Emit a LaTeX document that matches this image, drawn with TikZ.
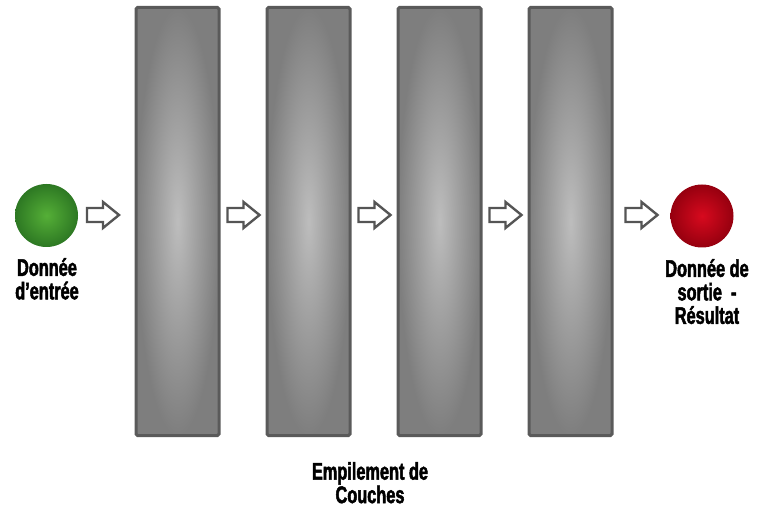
\documentclass[tikz,border=0pt]{standalone}
\usepackage{fontspec}
\setmainfont{Liberation Sans}[BoldFeatures={FakeStretch=0.68,FakeBold=2}]
\usetikzlibrary{positioning}
\definecolor{edgegray}{HTML}{5A5A5A}
\definecolor{layerin}{HTML}{BDBDBD}
\definecolor{layerout}{HTML}{7E7E7E}
\definecolor{greenin}{RGB}{85,175,55}
\definecolor{greenout}{RGB}{45,120,35}
\definecolor{redin}{RGB}{215,10,30}
\definecolor{redout}{RGB}{150,0,15}
\definecolor{arrowgray}{HTML}{555555}
\begin{document}
\begin{tikzpicture}[x=1pt,y=-1pt,
  layer/.style={draw=edgegray,line width=3pt,rounded corners=1.5pt,inner sep=0pt,
    minimum width=83pt,minimum height=428pt,inner color=layerin,outer color=layerout},
  ball/.style={circle,inner sep=0pt,minimum size=63pt},
  label/.style={font=\bfseries\fontsize{24}{23.5}\selectfont,align=center,inner sep=0pt,anchor=north},
  blockarrow/.pic={\draw[arrowgray,line width=2.4pt,line join=miter]
     (-16,-7) -- (0,-7) -- (0,-13) -- (16,0) -- (0,13) -- (0,7) -- (-16,7) -- cycle;}
]
\useasboundingbox (0,0) rectangle (768,518);
\node[ball,inner color=greenin,outer color=greenout] (in) at (46.5,215.5) {};
\node[ball,inner color=redin,outer color=redout] (out) at (702,216) {};
\node[layer] (l1) at (177.5,221.5) {};
\node[layer] (l2) at (308.5,221.5) {};
\node[layer] (l3) at (439.5,221.5) {};
\node[layer] (l4) at (570.5,221.5) {};
\pic at (103,215) {blockarrow};
\pic at (243.5,215) {blockarrow};
\pic at (374.5,215) {blockarrow};
\pic at (505.5,215) {blockarrow};
\pic at (641.5,215) {blockarrow};
\node[label] (tin) at (47,258) {Donnée\\d’entrée};
\node[label] (tout) at (707,259) {Donnée de\\sortie\ \ -\\Résultat};
\node[label] (tstack) at (370,462) {Empilement de\\Couches};
\end{tikzpicture}
\end{document}
